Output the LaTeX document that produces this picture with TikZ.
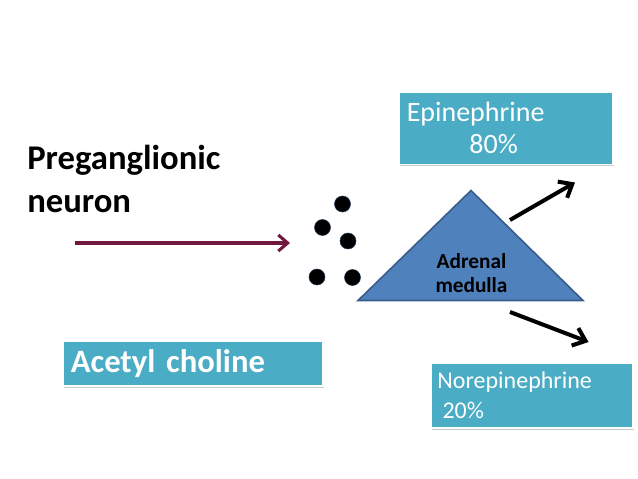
\documentclass[tikz,border=0pt]{standalone}
\usepackage{fontspec}
\setmainfont{Carlito}
\newfontfamily\tightfont{Carlito}[WordSpace=0.55]
\usepackage{xcolor}
\usepackage{tikz}
\usetikzlibrary{positioning,calc,arrows.meta,shadows}

\definecolor{boxteal}{HTML}{4BACC6}
\definecolor{medblue}{HTML}{4F81BD}
\definecolor{mededge}{HTML}{385D8A}
\definecolor{nervered}{HTML}{72183F}

\tikzset{
  labelbox/.style={draw=white, line width=1.2pt, fill=boxteal, text=white,
    align=left, anchor=north west, inner ysep=0pt,
    drop shadow={shadow xshift=1.2pt, shadow yshift=-1.5pt, fill=black!40}},
  vesicle/.style={circle, fill=black, draw=mededge!60!black, line width=0.4pt,
    minimum size=12pt, inner sep=0pt},
  release/.style={line width=3pt, -{Straight Barb[length=8.5pt, width=14pt]}},
}

\begin{document}
\begin{tikzpicture}[x=0.75pt, y=-0.75pt]
  \useasboundingbox (0,0) rectangle (638,478);

  % Neuron label and incoming fibre
  \node[anchor=north west, inner sep=0pt, align=left,
        font=\bfseries\fontsize{26}{32.5}\selectfont] (neuron) at (27,145)
        {Preganglionic\\neuron};
  \coordinate (fibrestart) at (75,243);
  \coordinate (fibreend) at (290,243);
  \draw[nervered, line width=2.3pt, -{Straight Barb[length=7pt, width=12pt]}]
        (fibrestart) -- (fibreend);

  % Vesicles
  \node[vesicle] (v1) at (342.5,204) {};
  \node[vesicle] (v2) at (322.5,227.5) {};
  \node[vesicle] (v3) at (348,241) {};
  \node[vesicle] (v4) at (317,277) {};
  \node[vesicle] (v5) at (352.5,277.5) {};

  % Adrenal medulla
  \draw[fill=medblue, draw=mededge, line width=1.2pt]
        (358,300.5) -- (471,190.5) -- (583,300.5) -- cycle;
  \node[font=\bfseries\fontsize{16}{18}\selectfont, align=center] (medulla)
        at (471.5,273) {Adrenal\\medulla};

  % Secretion arrows
  \coordinate (epistart) at (510,220);
  \coordinate (epiend) at (575,182.5);
  \coordinate (norstart) at (510,312);
  \coordinate (norend) at (588.5,342);
  \draw[release] (epistart) -- (epiend);
  \draw[release] (norstart) -- (norend);

  % Hormone boxes
  \node[labelbox, minimum width=160.5pt, minimum height=54.5pt,
        inner xsep=6pt, text width=148.5pt,
        font=\fontsize{21}{24}\selectfont] (epi) at (398,91)
        {Epinephrine\\\hspace*{47pt}80\%};
  \node[labelbox, minimum width=151.5pt, minimum height=48.75pt,
        inner xsep=5pt, text width=141.5pt,
        font=\fontsize{18}{22.5}\selectfont] (norepi) at (430,362)
        {Norepinephrine\\\hspace*{3.8pt}20\%};
  \node[labelbox, minimum width=195pt, minimum height=33.75pt,
        inner xsep=5.5pt, text width=183pt,
        font=\tightfont\bfseries\fontsize{24.5}{28}\selectfont] (ach) at (62,340)
        {Acetyl choline};
\end{tikzpicture}
\end{document}
